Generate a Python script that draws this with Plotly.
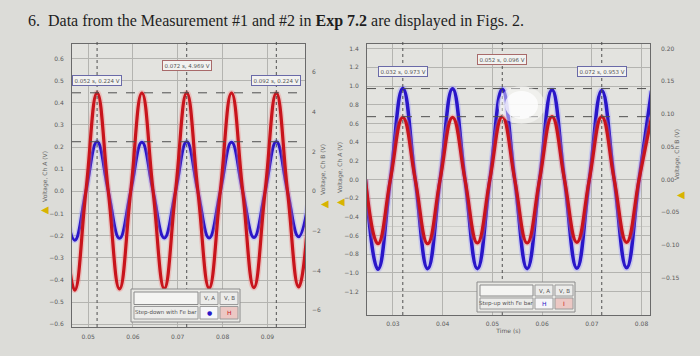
import plotly.graph_objects as go

# ---------------- data ----------------
# Fig (left): Step-down with Fe bar, quarter-period samples
t_left = [0.0445, 0.047, 0.0495, 0.052, 0.0545, 0.057, 0.0595, 0.062, 0.0645,
          0.067, 0.0695, 0.072, 0.0745, 0.077, 0.0795, 0.082, 0.0845, 0.087,
          0.0895, 0.092, 0.0945, 0.097, 0.0995]
chA_left = [0.0, -0.220, 0.0, 0.224, 0.0, -0.212, 0.0, 0.222, 0.0,
            -0.210, 0.0, 0.224, 0.0, -0.210, 0.0, 0.222, 0.0, -0.208,
            0.0, 0.224, 0.0, -0.205, 0.0]
chB_left = [0.0, -4.98, 0.0, 4.97, 0.0, -4.92, 0.0, 4.96, 0.0,
            -4.90, 0.0, 4.969, 0.0, -4.88, 0.0, 4.96, 0.0, -4.85,
            0.0, 4.95, 0.0, -4.82, 0.0]

# Fig (right): Step-up with Fe bar
t_right = [0.0245, 0.027, 0.0295, 0.032, 0.0345, 0.037, 0.0395, 0.042, 0.0445,
           0.047, 0.0495, 0.052, 0.0545, 0.057, 0.0595, 0.062, 0.0645, 0.067,
           0.0695, 0.072, 0.0745, 0.077, 0.0795, 0.082]
chA_right = [0.0, -0.96, 0.0, 0.973, 0.0, -0.955, 0.0, 0.97, 0.0,
             -0.955, 0.0, 0.965, 0.0, -0.955, 0.0, 0.96, 0.0, -0.95,
             0.0, 0.953, 0.0, -0.945, 0.0, 0.95]
chB_right = [0.0, -0.098, 0.0, 0.095, 0.0, -0.098, 0.0, 0.095, 0.0,
             -0.097, 0.0, 0.096, 0.0, -0.097, 0.0, 0.096, 0.0, -0.096,
             0.0, 0.096, 0.0, -0.096, 0.0, 0.095]

left_cursors = [0.052, 0.072, 0.092]
left_cursor_text = ["0.052 s, 0.224 V", "0.072 s, 4.969 V", "0.092 s, 0.224 V"]
right_cursors = [0.032, 0.052, 0.072]
right_cursor_text = ["0.032 s, 0.973 V", "0.052 s, 0.096 V", "0.072 s, 0.953 V"]

left_levels_A = [0.224]
left_levels_B = [4.969]
right_levels_A = [0.973]
right_levels_B = [0.096]

title_text = "6.&nbsp; Data from the Measurement #1 and #2 in <b>Exp 7.2</b> are displayed in Figs. 2."
legend_left_label = "Step-down with Fe bar"
legend_right_label = "Step-up with Fe bar"
ch_a_title = "Voltage, Ch A (V)"
ch_b_title = "Voltage, Ch B (V)"

# ---------------- styling ----------------
W, H = 700, 356
RED = "#c8141c"
BLUE = "#2a16c8"
RED_HALO = "rgba(240,130,130,0.35)"
BLUE_HALO = "rgba(160,160,255,0.40)"
PAPER = "#dcdcd8"
PLOT_BG = "#e3e3df"
GRID = "#b4b4b0"
MINOR = "#cdcdc9"
TICKC = "#5a5a5a"
TF = dict(family="DejaVu Sans", size=6, color=TICKC)

def px(x):
    return x / W

def py(y):
    return 1 - y / H

fig = go.Figure()

SPL = dict(shape="spline", smoothing=1.3)

# left panel traces
fig.add_trace(go.Scatter(x=t_left, y=chB_left, xaxis="x", yaxis="y2", mode="lines",
                         line=dict(color=RED_HALO, width=6, **SPL),
                         hoverinfo="skip", showlegend=False))
fig.add_trace(go.Scatter(x=t_left, y=chA_left, xaxis="x", yaxis="y", mode="lines",
                         line=dict(color=BLUE_HALO, width=6, **SPL),
                         hoverinfo="skip", showlegend=False))
fig.add_trace(go.Scatter(x=t_left, y=chA_left, xaxis="x", yaxis="y", mode="lines",
                         line=dict(color=BLUE, width=3, **SPL), showlegend=False))
fig.add_trace(go.Scatter(x=t_left, y=chB_left, xaxis="x", yaxis="y2", mode="lines",
                         line=dict(color=RED, width=3.2, **SPL), showlegend=False))

# right panel traces
fig.add_trace(go.Scatter(x=t_right, y=chB_right, xaxis="x2", yaxis="y4", mode="lines",
                         line=dict(color=RED_HALO, width=6, **SPL),
                         hoverinfo="skip", showlegend=False))
fig.add_trace(go.Scatter(x=t_right, y=chA_right, xaxis="x2", yaxis="y3", mode="lines",
                         line=dict(color=BLUE_HALO, width=6.5, **SPL),
                         hoverinfo="skip", showlegend=False))
fig.add_trace(go.Scatter(x=t_right, y=chB_right, xaxis="x2", yaxis="y4", mode="lines",
                         line=dict(color=RED, width=3.2, **SPL), showlegend=False))
fig.add_trace(go.Scatter(x=t_right, y=chA_right, xaxis="x2", yaxis="y3", mode="lines",
                         line=dict(color=BLUE, width=3.5, **SPL), showlegend=False))

axis_common = dict(showgrid=True, gridcolor=GRID, gridwidth=1, zeroline=False,
                   showline=True, linecolor="#6a6a6a", linewidth=1,
                   ticks="", tickfont=TF,
                   minor=dict(showgrid=True, gridcolor=MINOR, gridwidth=1, nticks=2))

L_dom_x = [px(72), px(305)]
L_dom_y = [py(327), py(44)]
R_dom_x = [px(367), px(650)]
R_dom_y = [py(315), py(44)]

fig.update_layout(
    width=W, height=H, margin=dict(l=0, r=0, t=0, b=0),
    paper_bgcolor=PAPER, plot_bgcolor=PLOT_BG, showlegend=False,
    xaxis=dict(axis_common, domain=L_dom_x, range=[0.0464, 0.0984], anchor="y",
               tickvals=[0.05, 0.06, 0.07, 0.08, 0.09], tickformat=".2f",
               ticklabelstandoff=4, mirror=True),
    yaxis=dict(axis_common, domain=L_dom_y, range=[-0.612, 0.665], anchor="x",
               tickvals=[-0.6, -0.5, -0.4, -0.3, -0.2, -0.1, 0.0, 0.1, 0.2, 0.3, 0.4, 0.5, 0.6],
               tickformat=".1f", ticklabelstandoff=6, mirror=True),
    yaxis2=dict(domain=L_dom_y, range=[-6.84, 7.43], anchor="x", overlaying="y", side="right",
                showgrid=False, zeroline=False, showline=False, tickfont=TF,
                tickvals=[-6, -4, -2, 0, 2, 4, 6], ticklabelstandoff=6),
    xaxis2=dict(axis_common, domain=R_dom_x, range=[0.0248, 0.0817], anchor="y3",
                tickvals=[0.03, 0.04, 0.05, 0.06, 0.07, 0.08], tickformat=".2f",
                ticklabelstandoff=3, mirror=True,
                title=dict(text="Time (s)", font=dict(family="DejaVu Sans", size=6, color=TICKC),
                           standoff=2)),
    yaxis3=dict(axis_common, domain=R_dom_y, range=[-1.45, 1.45], anchor="x2",
                tickvals=[-1.2, -1.0, -0.8, -0.6, -0.4, -0.2, 0.0, 0.2, 0.4, 0.6, 0.8, 1.0, 1.2, 1.4],
                tickformat=".1f", ticklabelstandoff=6, mirror=True),
    yaxis4=dict(domain=R_dom_y, range=[-0.207, 0.207], anchor="x2", overlaying="y3", side="right",
                showgrid=False, zeroline=False, showline=False, tickfont=TF,
                tickvals=[-0.15, -0.10, -0.05, 0.0, 0.05, 0.10, 0.15, 0.20], tickformat=".2f",
                ticklabelstandoff=10),
)

shapes = []
annotations = []

def note(xx, yy, text, font, **kw):
    d = dict(x=px(xx), y=py(yy), xref="paper", yref="paper", text=text, showarrow=False,
             xanchor="center", yanchor="middle", font=font)
    d.update(kw)
    annotations.append(d)

# cursor lines and horizontal level lines
DASH = dict(color="#505050", width=1, dash="dot")
HDASH = dict(color="#505050", width=1, dash="dash")
for xv in left_cursors:
    shapes.append(dict(type="line", xref="x", yref="paper", x0=xv, x1=xv,
                       y0=L_dom_y[0], y1=L_dom_y[1] + 0.012, line=DASH))
for xv in right_cursors:
    shapes.append(dict(type="line", xref="x2", yref="paper", x0=xv, x1=xv,
                       y0=R_dom_y[0], y1=R_dom_y[1] + 0.012, line=DASH))
for v in left_levels_A:
    shapes.append(dict(type="line", xref="x domain", yref="y", x0=0, x1=1, y0=v, y1=v, line=HDASH))
for v in left_levels_B:
    shapes.append(dict(type="line", xref="x domain", yref="y2", x0=0, x1=1, y0=v, y1=v, line=HDASH))
for v in right_levels_A:
    shapes.append(dict(type="line", xref="x2 domain", yref="y3", x0=0, x1=1, y0=v, y1=v, line=HDASH))
for v in right_levels_B:
    shapes.append(dict(type="line", xref="x2 domain", yref="y4", x0=0, x1=1, y0=v, y1=v, line=HDASH))

# cursor readout boxes
BOXF = dict(family="DejaVu Sans", size=5.5, color="#555")
left_box_y = [py(81), py(65), py(81)]
left_box_c = ["#6a6aa8", "#a86a6a", "#6a6aa8"]
for xv, txt, yy, bc in zip(left_cursors, left_cursor_text, left_box_y, left_box_c):
    annotations.append(dict(x=xv, y=yy, xref="x", yref="paper", text=txt, showarrow=False,
                            xanchor="center", yanchor="middle",
                            font=BOXF, bgcolor="#f2f2f0", bordercolor=bc, borderwidth=1,
                            borderpad=1.5))
right_box_y = [py(71), py(59), py(71)]
right_box_c = ["#6a6aa8", "#a86a6a", "#6a6aa8"]
for xv, txt, yy, bc in zip(right_cursors, right_cursor_text, right_box_y, right_box_c):
    annotations.append(dict(x=xv, y=yy, xref="x2", yref="paper", text=txt, showarrow=False,
                            xanchor="center", yanchor="middle",
                            font=BOXF, bgcolor="#f2f2f0", bordercolor=bc, borderwidth=1,
                            borderpad=1.5))

def rect(x0, x1, ytop, ybot, fill, lc="#9a9a9a"):
    shapes.append(dict(type="rect", xref="paper", yref="paper", x0=px(x0), x1=px(x1),
                       y0=py(ybot), y1=py(ytop), fillcolor=fill, line=dict(color=lc, width=1)))

# legend tables
def legend_table(x0, x1, y0, y1, c1, c2, label, markA, colA, markB, colB):
    xm0, xm1 = x0 + 3, c1 - 2
    ymid = (y0 + y1) / 2
    rect(x0, x1, y0, y1, "#e8e8e4", "#8a8a8a")
    r1 = (y0 + 3, ymid - 1)
    r2 = (ymid + 1, y1 - 3)
    rect(xm0, xm1, r1[0], r1[1], "#f4f4f2", "#8a8a8a")
    rect(c1, c2 - 1, r1[0], r1[1], "#ececea")
    rect(c2 + 1, x1 - 2, r1[0], r1[1], "#ececea")
    rect(xm0, xm1, r2[0], r2[1], "#ececea")
    rect(c1, c2 - 1, r2[0], r2[1], "#f6f6f8")
    rect(c2 + 1, x1 - 2, r2[0], r2[1], "#ecc8c4")
    f = dict(family="DejaVu Sans", size=5.5, color="#555")
    note((c1 + c2 - 1) / 2, sum(r1) / 2, "V, A", f)
    note((c2 + 1 + x1 - 2) / 2, sum(r1) / 2, "V, B", f)
    note((xm0 + xm1) / 2, sum(r2) / 2, label, f)
    note((c1 + c2 - 1) / 2, sum(r2) / 2, markA, dict(family="DejaVu Sans", size=6, color=colA))
    note((c2 + 1 + x1 - 2) / 2, sum(r2) / 2, markB, dict(family="DejaVu Sans", size=6, color=colB))

legend_table(131, 240, 289, 322, 200, 219, legend_left_label, "●", BLUE, "H", RED)
legend_table(477, 575, 282, 312, 535, 554, legend_right_label, "H", BLUE, "I", RED)

# axis titles (rotated)
AT = dict(family="DejaVu Sans", size=6, color="#666")
for xx, yy, txt in [(45, 176, ch_a_title), (323, 170, ch_b_title),
                    (340, 168, ch_a_title), (677, 155, ch_b_title)]:
    note(xx, yy, txt, AT, textangle=-90)

# yellow warning triangles
for xx, yy in [(45, 209), (325, 204), (341, 201), (681, 195)]:
    note(xx, yy, "◀", dict(family="DejaVu Sans", size=10, color="#d8b400"))

# title
annotations.append(dict(x=px(26), y=py(21), xref="paper", yref="paper", text=title_text,
                        showarrow=False, xanchor="left", yanchor="middle",
                        font=dict(family="Liberation Serif", size=16, color="#1e1e1e")))

# glare spot
shapes.append(dict(type="circle", xref="paper", yref="paper", x0=px(498), x1=px(545),
                   y0=py(124), y1=py(86), fillcolor="rgba(255,255,255,0.45)", line=dict(width=0)))
shapes.append(dict(type="circle", xref="paper", yref="paper", x0=px(505), x1=px(538),
                   y0=py(119), y1=py(91), fillcolor="rgba(255,255,255,0.75)", line=dict(width=0)))

fig.update_layout(shapes=shapes, annotations=annotations)
fig.write_html("out.html", config={"displayModeBar": False},
               post_script="document.body.style.margin='0';document.body.style.overflow='hidden';")
